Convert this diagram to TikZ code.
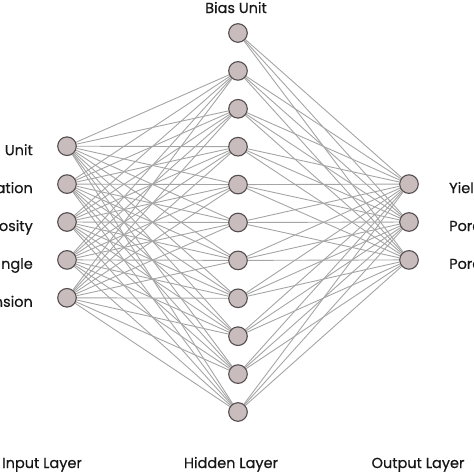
\documentclass[tikz,border=0pt]{standalone}
\usepackage{fontspec}
\setmainfont{Poppins}[FakeBold=0.5]
\usetikzlibrary{backgrounds}
\definecolor{unitfill}{RGB}{201,188,189}
\definecolor{unitedge}{RGB}{85,78,80}
\definecolor{linkgray}{RGB}{165,165,165}
\definecolor{labeltext}{RGB}{22,22,22}
\newlength{\unitrad}
\setlength{\unitrad}{18.6pt}

\begin{document}
\begin{tikzpicture}[x=1pt,y=-1pt,
    unit/.style={circle,fill=unitfill,draw=unitedge,line width=1.1pt,inner sep=0pt,minimum size=\unitrad},
    link/.style={draw=linkgray,line width=0.9pt},
    lbl/.style={text=labeltext,inner sep=0pt,font=\fontsize{14.5}{16}\selectfont}]
            \useasboundingbox (0,0) rectangle (474,474);
            \clip (0,0) rectangle (474,474);
            % input layer
            \foreach \i/\t in {1/Unit,2/ation,3/osity,4/ngle,5/nsion}{
                \node[unit] (in\i) at (67,{222+(\i-3)*37.9}) {};
                \node[lbl,anchor=base east] (inlbl\i) at (33,{222+(\i-3)*37.9+9}) {\t};
            }
            % hidden layer, h0 is the bias unit
            \foreach \j in {0,...,10}{
                \node[unit] (h\j) at (238,{33+\j*37.9}) {};
            }
            % output layer
            \foreach \k/\t in {1/Yield,2/Pore,3/Pore}{
                \node[unit] (out\k) at (409,{222+(\k-2)*37.9}) {};
                \node[lbl,anchor=base west] (outlbl\k) at (449,{222+(\k-2)*37.9+9}) {\t};
            }
            \begin{scope}[on background layer]
                \foreach \i in {1,...,5}
                    \foreach \j in {1,...,10}
                        \draw[link] (in\i) -- (h\j);
                \foreach \j in {0,...,10}
                    \foreach \k in {1,2,3}
                        \draw[link] (h\j) -- (out\k);
            \end{scope}
            \node[lbl,anchor=base] (bias) at (236,13) {Bias Unit};
            \node[lbl,anchor=base] (inname) at (42,468) {Input Layer};
            \node[lbl,anchor=base] (hidname) at (231,468) {Hidden Layer};
            \node[lbl,anchor=base] (outname) at (418,468) {Output Layer};
\end{tikzpicture}
\end{document}
